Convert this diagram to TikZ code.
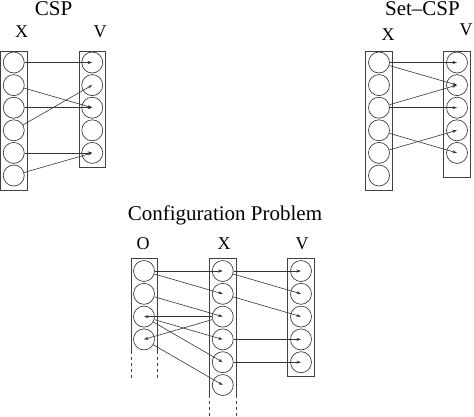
\documentclass[tikz,border=0pt]{standalone}
\usepackage{fontspec}
\setmainfont{Liberation Serif}
\usetikzlibrary{arrows.meta}
\begin{document}
\begin{tikzpicture}[x=1pt,y=-1pt,
  circ/.style={draw=black!75,line width=0.7pt,circle,minimum size=21pt,inner sep=0pt},
  boxs/.style={draw=black!75,line width=0.7pt,rectangle,inner sep=0pt},
  openbox/.style={draw=black!75,line width=0.7pt},
  dashpart/.style={draw=black!75,line width=0.7pt,dash pattern=on 3pt off 3pt},
  arr/.style={draw=black!80,line width=0.6pt,-{Stealth[length=4.5pt,width=3pt]}},
  ttl/.style={font=\fontsize{21}{23}\selectfont,anchor=base,inner sep=0pt},
  lbl/.style={font=\fontsize{18}{20}\selectfont,anchor=base,inner sep=0pt}]
\useasboundingbox (0,0) rectangle (474,416);

% ---------------- CSP ----------------
\node[ttl] (t1) at (53.5,15) {CSP};
\node[lbl] (t1x) at (21.5,37.5) {X};
\node[lbl] (t1v) at (100,37.5) {V};
\node[boxs,minimum width=26.5pt,minimum height=139pt] (b1x) at (13.75,120.5) {};
\node[boxs,minimum width=26.5pt,minimum height=116pt] (b1v) at (92.25,109) {};
\foreach \i in {1,...,6} {
  \node[circ] (a\i) at (13.75,{62.5+22.6*(\i-1)}) {};
}
\foreach \i in {1,...,5} {
  \node[circ] (b\i) at (92.25,{62.5+22.6*(\i-1)}) {};
}
\draw[arr] (a1) -- (b1.center);
\draw[arr] (a2) -- (b3.center);
\draw[arr] (a3) -- (b3.center);
\draw[arr] (a4) -- (b2.center);
\draw[arr] (a5) -- (b5.center);
\draw[arr] (a6) -- (b5.center);

% ---------------- Set-CSP ----------------
\node[ttl] (t2) at (422.5,15) {Set--CSP};
\node[lbl] (t2x) at (388,40) {X};
\node[lbl] (t2v) at (466,35) {V};
\node[boxs,minimum width=26.5pt,minimum height=139pt] (b2x) at (379,120.5) {};
\node[boxs,minimum width=26.5pt,minimum height=126pt] (b2v) at (457,114) {};
\foreach \i in {1,...,6} {
  \node[circ] (c\i) at (379,{62.5+22.6*(\i-1)}) {};
}
\foreach \i in {1,...,5} {
  \node[circ] (d\i) at (457,{62.5+22.6*(\i-1)}) {};
}
\draw[arr] (c1) -- (d1.center);
\draw[arr] (c1) -- (d2.center);
\draw[arr] (c3) -- (d2.center);
\draw[arr] (c3) -- (d3.center);
\draw[arr] (c4) -- (d5.center);
\draw[arr] (c5) -- (d4.center);

% ---------------- Configuration Problem ----------------
\node[ttl] (t3) at (225,220) {Configuration Problem};
\node[lbl] (t3o) at (143,249) {O};
\node[lbl] (t3x) at (224,249) {X};
\node[lbl] (t3v) at (302,249) {V};
% O box (open)
\draw[openbox] (131,354) -- (131,258) -- (157,258) -- (157,354);
\draw[dashpart] (131,357) -- (131,378);
\draw[dashpart] (157,357) -- (157,378);
% X box (open)
\draw[openbox] (209.5,398) -- (209.5,258) -- (236,258) -- (236,398);
\draw[dashpart] (209.5,401) -- (209.5,416);
\draw[dashpart] (236,401) -- (236,416);
% V box
\node[boxs,minimum width=26.5pt,minimum height=118pt] (b3v) at (301,317) {};
\foreach \i in {1,...,4} {
  \node[circ] (o\i) at (144,{271+22.8*(\i-1)}) {};
}
\foreach \i in {1,...,6} {
  \node[circ] (x\i) at (222.75,{271+22.8*(\i-1)}) {};
}
\foreach \i in {1,...,5} {
  \node[circ] (v\i) at (301,{271+22.8*(\i-1)}) {};
}
\draw[arr] (o1) -- (x1.center);
\draw[arr] (o1) -- (x2.center);
\draw[arr] (o2) -- (x3.center);
\draw[arr] (x3) -- (o3.center);
\draw[arr] (x3) -- (o4.center);
\draw[arr] (o3) -- (x4.center);
\draw[arr] (o3) -- (x5.center);
\draw[arr] (o4) -- (x6.center);
\draw[arr] (x1) -- (v1.center);
\draw[arr] (x1) -- (v2.center);
\draw[arr] (x2) -- (v3.center);
\draw[arr] (x4) -- (v4.center);
\draw[arr] (x5) -- (v5.center);
\end{tikzpicture}
\end{document}
